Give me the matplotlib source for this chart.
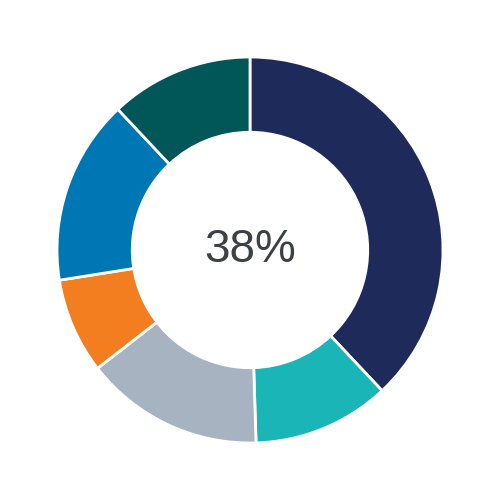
import matplotlib.pyplot as plt

shares = [38, 11.5, 15, 8, 15.5, 12]
colors = ['#1e2b5a', '#1ab5b6', '#a8b3c1', '#f37e20', '#0077b5', '#015757']
center_label = '38%'

fig = plt.figure(figsize=(5, 5), dpi=100)
ax = fig.add_axes([0, 0, 1, 1])
ax.pie(shares, colors=colors, startangle=90, counterclock=False,
       radius=1, wedgeprops=dict(width=0.39, edgecolor='white', linewidth=2))
ax.text(0, 0, center_label, ha='center', va='center', fontsize=33,
        color='#3c4146', family=['Liberation Sans', 'DejaVu Sans'])
lim = 250 / 193
ax.set_xlim(-lim, lim)
ax.set_ylim(-lim, lim)
ax.set_aspect('equal')
ax.axis('off')
fig.savefig('out.png', dpi=100, facecolor='white')
